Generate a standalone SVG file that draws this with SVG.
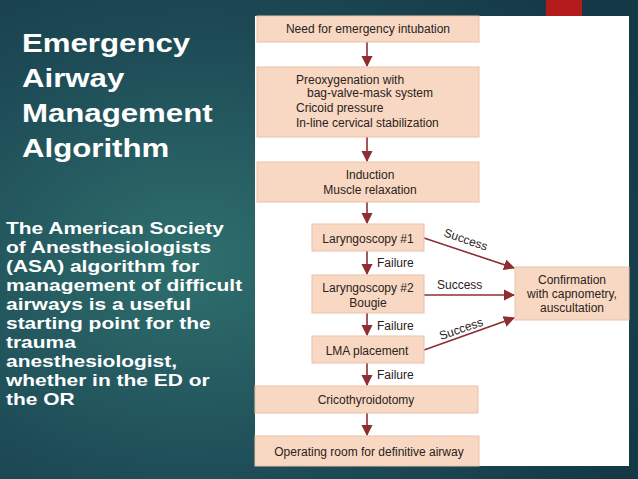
<svg xmlns="http://www.w3.org/2000/svg" width="638" height="479" viewBox="0 0 638 479">
<defs>
<radialGradient id="bg" cx="0.3" cy="0.55" r="0.8">
<stop offset="0" stop-color="#2f6f6e"/><stop offset="0.6" stop-color="#1d4a55"/><stop offset="1" stop-color="#143846"/>
</radialGradient>
<marker id="ah" viewBox="0 0 10 10" refX="9" refY="5" markerWidth="7" markerHeight="7" orient="auto"><path d="M0,0L10,5L0,10z" fill="#8e2e32"/></marker>
<style>
.b{fill:#f8d8c2;stroke:#e9c3aa;stroke-width:1}
.t{font-family:"Liberation Sans",Arial,sans-serif;font-size:12px;fill:#2a2220;text-anchor:middle}
.l{font-family:"Liberation Sans",Arial,sans-serif;font-size:12px;fill:#2a2220}
.c{stroke:#8e2e32;stroke-width:1.6;fill:none;marker-end:url(#ah)}
.w{font-family:"Liberation Sans",Arial,sans-serif;font-weight:bold;fill:#fff}
</style>
</defs>
<rect width="638" height="479" fill="url(#bg)"/>
<rect x="546" y="0" width="36" height="16" fill="#b31b1b"/>
<rect x="255" y="16" width="374" height="450" fill="#fff"/>
<g class="w" font-size="26" transform="translate(22,0) scale(1.2,1)"><text x="0" y="52">Emergency</text><text x="0" y="87">Airway</text><text x="0" y="122">Management</text><text x="0" y="157">Algorithm</text></g>
<g class="w" font-size="16.5" transform="translate(6,0) scale(1.27,1)"><text x="0" y="234">The American Society</text><text x="0" y="253">of Anesthesiologists</text><text x="0" y="272">(ASA) algorithm for</text><text x="0" y="291">management of difficult</text><text x="0" y="310">airways is a useful</text><text x="0" y="329">starting point for the</text><text x="0" y="348">trauma</text><text x="0" y="367">anesthesiologist,</text><text x="0" y="386">whether in the ED or</text><text x="0" y="405">the OR</text></g>
<g id="connectors">
<line class="c" x1="367" y1="42" x2="367" y2="66"/>
<line class="c" x1="367" y1="137" x2="367" y2="161"/>
<line class="c" x1="367" y1="202" x2="367" y2="223"/>
<line class="c" x1="367" y1="251" x2="367" y2="274"/>
<line class="c" x1="367" y1="313" x2="367" y2="335"/>
<line class="c" x1="367" y1="363" x2="367" y2="385"/>
<line class="c" x1="367" y1="413" x2="367" y2="435"/>
<line class="c" x1="424" y1="238" x2="514" y2="268"/>
<line class="c" x1="424" y1="295" x2="514" y2="295"/>
<line class="c" x1="424" y1="350" x2="514" y2="318"/>
<text class="l" x="377" y="267">Failure</text>
<text class="l" x="377" y="330">Failure</text>
<text class="l" x="377" y="379">Failure</text>
<text class="l" x="437" y="289">Success</text>
<text class="l" transform="translate(443,236) rotate(19)">Success</text>
<text class="l" transform="translate(441,340) rotate(-19)">Success</text>
</g>
<g id="n1"><rect class="b" x="257" y="16" width="222" height="26"/><text class="t" x="368" y="33">Need for emergency intubation</text></g>
<g id="n2"><rect class="b" x="257" y="67" width="222" height="70"/><text class="l" x="296" y="84">Preoxygenation with</text><text class="l" x="307" y="97">bag-valve-mask system</text><text class="l" x="296" y="112">Cricoid pressure</text><text class="l" x="296" y="127">In-line cervical stabilization</text></g>
<g id="n3"><rect class="b" x="257" y="162" width="222" height="40"/><text class="t" x="370" y="179">Induction</text><text class="t" x="370" y="194">Muscle relaxation</text></g>
<g id="n4"><rect class="b" x="312" y="224" width="112" height="27"/><text class="t" x="368" y="243">Laryngoscopy #1</text></g>
<g id="n5"><rect class="b" x="312" y="275" width="112" height="38"/><text class="t" x="368" y="292">Laryngoscopy #2</text><text class="t" x="368" y="307">Bougie</text></g>
<g id="n6"><rect class="b" x="312" y="336" width="112" height="27"/><text class="t" x="367" y="355">LMA placement</text></g>
<g id="n7"><rect class="b" x="255" y="386" width="223" height="27"/><text class="t" x="366" y="404">Cricothyroidotomy</text></g>
<g id="n8"><rect class="b" x="255" y="436" width="224" height="30"/><text class="t" x="369" y="456">Operating room for definitive airway</text></g>
<g id="n9"><rect class="b" x="515" y="267" width="114" height="53"/><text class="t" x="572" y="284">Confirmation</text><text class="t" x="572" y="298">with capnometry,</text><text class="t" x="572" y="312">auscultation</text></g>
</svg>
